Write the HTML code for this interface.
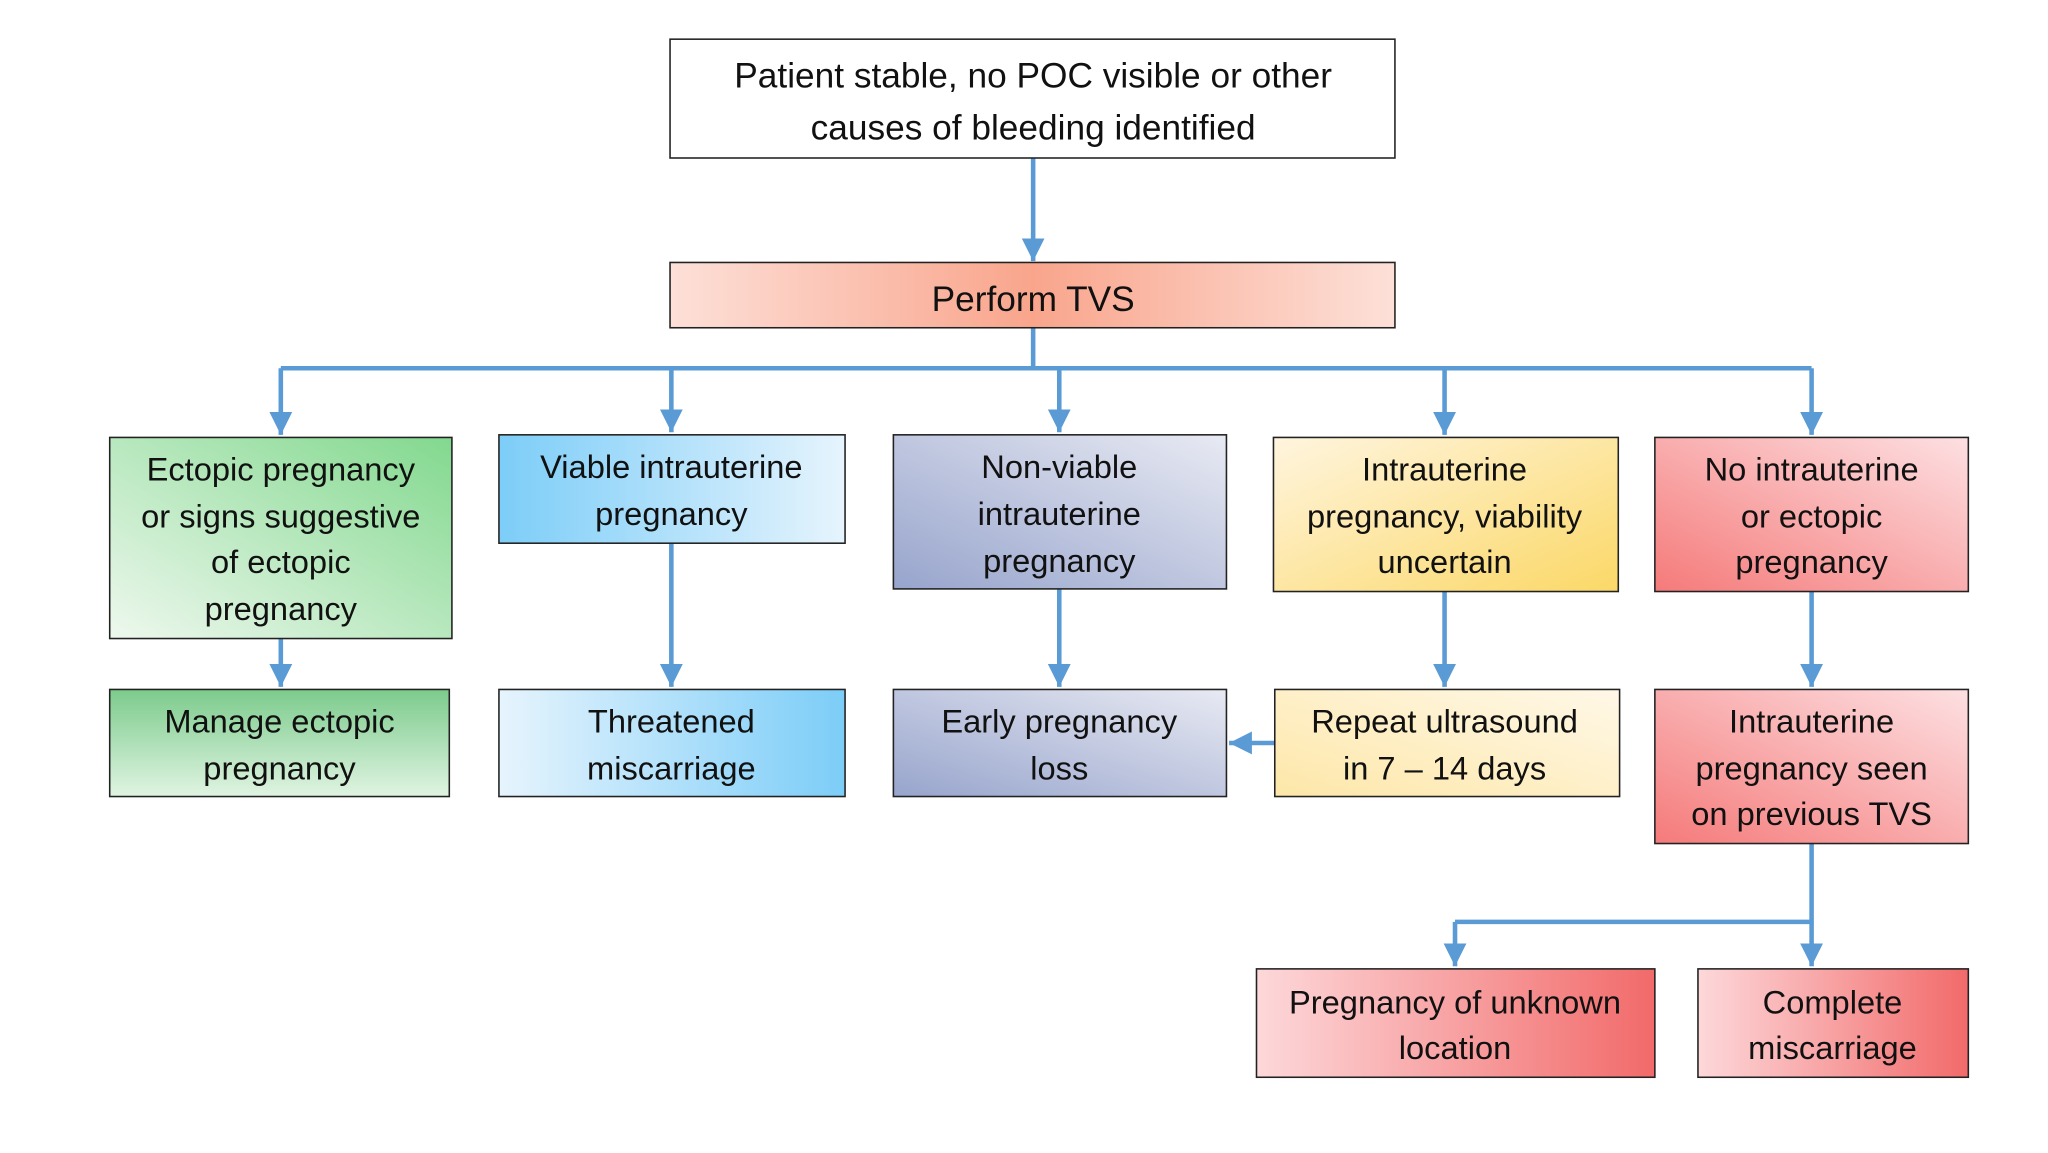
<!DOCTYPE html>
<html><head><meta charset="utf-8"><style>html,body{margin:0;padding:0;background:#fff}svg{display:block}text{font-family:"Liberation Sans",sans-serif;font-size:25px;fill:#111;text-anchor:middle}</style></head><body>
<svg width="2048" height="1153" viewBox="0 0 1568 883" preserveAspectRatio="none" xmlns="http://www.w3.org/2000/svg">
<defs>
<linearGradient id="tvs" x1="0" x2="1"><stop offset="0" stop-color="#fde0d8"/><stop offset="0.5" stop-color="#f9a58c"/><stop offset="1" stop-color="#fde0d8"/></linearGradient>
<linearGradient id="g1" x1="0" y1="1" x2="1" y2="0"><stop offset="0" stop-color="#eef8ee"/><stop offset="1" stop-color="#82d88e"/></linearGradient>
<linearGradient id="g2" x1="0" y1="0" x2="0" y2="1"><stop offset="0" stop-color="#7ccb8c"/><stop offset="1" stop-color="#e0f4e2"/></linearGradient>
<linearGradient id="b1" x1="0" x2="1"><stop offset="0" stop-color="#7ccdf8"/><stop offset="1" stop-color="#e6f4fd"/></linearGradient>
<linearGradient id="b2" x1="0" x2="1"><stop offset="0" stop-color="#e6f4fd"/><stop offset="1" stop-color="#7ccdf8"/></linearGradient>
<linearGradient id="p1" x1="0" y1="1" x2="1" y2="0"><stop offset="0" stop-color="#97a4cc"/><stop offset="1" stop-color="#e8eaf3"/></linearGradient>
<linearGradient id="y1" x1="0" y1="0" x2="1" y2="1"><stop offset="0" stop-color="#fff5df"/><stop offset="1" stop-color="#fbd867"/></linearGradient>
<linearGradient id="y2" x1="0" y1="1" x2="1" y2="0"><stop offset="0" stop-color="#fde7a8"/><stop offset="1" stop-color="#fff8e8"/></linearGradient>
<linearGradient id="r1" x1="0" y1="1" x2="1" y2="0"><stop offset="0" stop-color="#f57a7a"/><stop offset="1" stop-color="#fde0e2"/></linearGradient>
<linearGradient id="r2" x1="0" x2="1"><stop offset="0" stop-color="#fdd8da"/><stop offset="1" stop-color="#f26a6a"/></linearGradient>
<marker id="ah" viewBox="0 0 10 10" refX="10" refY="5" markerWidth="5" markerHeight="6" orient="auto" markerUnits="strokeWidth"><path d="M0,0 L10,5 L0,10 z" fill="#5b9bd5"/></marker>
</defs>
<g fill="none" stroke="#5b9bd5" stroke-width="3.5">
<line x1="791" y1="121" x2="791" y2="200" marker-end="url(#ah)"/>
<line x1="791" y1="251" x2="791" y2="282"/>
<line x1="215" y1="282" x2="1387" y2="282"/>
<line x1="215" y1="282" x2="215" y2="333" marker-end="url(#ah)"/>
<line x1="514" y1="282" x2="514" y2="331" marker-end="url(#ah)"/>
<line x1="811" y1="282" x2="811" y2="331" marker-end="url(#ah)"/>
<line x1="1106" y1="282" x2="1106" y2="333" marker-end="url(#ah)"/>
<line x1="1387" y1="282" x2="1387" y2="333" marker-end="url(#ah)"/>
<line x1="215" y1="489" x2="215" y2="526" marker-end="url(#ah)"/>
<line x1="514" y1="416" x2="514" y2="526" marker-end="url(#ah)"/>
<line x1="811" y1="451" x2="811" y2="526" marker-end="url(#ah)"/>
<line x1="1106" y1="453" x2="1106" y2="526" marker-end="url(#ah)"/>
<line x1="1387" y1="453" x2="1387" y2="526" marker-end="url(#ah)"/>
<line x1="976" y1="569" x2="941" y2="569" marker-end="url(#ah)"/>
<line x1="1387" y1="646" x2="1387" y2="740" marker-end="url(#ah)"/>
<line x1="1387" y1="706" x2="1114" y2="706"/>
<line x1="1114" y1="706" x2="1114" y2="740" marker-end="url(#ah)"/>
</g>
<g stroke="#222" stroke-width="1.2">
<rect x="513" y="30" width="555" height="91" fill="#fff"/>
<rect x="513" y="201" width="555" height="50" fill="url(#tvs)"/>
<rect x="84" y="335" width="262" height="154" fill="url(#g1)"/>
<rect x="382" y="333" width="265" height="83" fill="url(#b1)"/>
<rect x="684" y="333" width="255" height="118" fill="url(#p1)"/>
<rect x="975" y="335" width="264" height="118" fill="url(#y1)"/>
<rect x="1267" y="335" width="240" height="118" fill="url(#r1)"/>
<rect x="84" y="528" width="260" height="82" fill="url(#g2)"/>
<rect x="382" y="528" width="265" height="82" fill="url(#b2)"/>
<rect x="684" y="528" width="255" height="82" fill="url(#p1)"/>
<rect x="976" y="528" width="264" height="82" fill="url(#y2)"/>
<rect x="1267" y="528" width="240" height="118" fill="url(#r1)"/>
<rect x="962" y="742" width="305" height="83" fill="url(#r2)"/>
<rect x="1300" y="742" width="207" height="83" fill="url(#r2)"/>
</g>
<text x="791" y="67" style="font-size:27px">Patient stable, no POC visible or other</text>
<text x="791" y="107" style="font-size:27px">causes of bleeding identified</text>
<text x="791" y="238" style="font-size:27px">Perform TVS</text>
<g>
<text x="215" y="368">Ectopic pregnancy</text><text x="215" y="404">or signs suggestive</text><text x="215" y="439">of ectopic</text><text x="215" y="475">pregnancy</text>
<text x="514" y="366">Viable intrauterine</text><text x="514" y="402">pregnancy</text>
<text x="811" y="366">Non-viable</text><text x="811" y="402">intrauterine</text><text x="811" y="438">pregnancy</text>
<text x="1106" y="368">Intrauterine</text><text x="1106" y="404">pregnancy, viability</text><text x="1106" y="439">uncertain</text>
<text x="1387" y="368">No intrauterine</text><text x="1387" y="404">or ectopic</text><text x="1387" y="439">pregnancy</text>
<text x="214" y="561">Manage ectopic</text><text x="214" y="597">pregnancy</text>
<text x="514" y="561">Threatened</text><text x="514" y="597">miscarriage</text>
<text x="811" y="561">Early pregnancy</text><text x="811" y="597">loss</text>
<text x="1106" y="561">Repeat ultrasound</text><text x="1106" y="597">in 7 – 14 days</text>
<text x="1387" y="561">Intrauterine</text><text x="1387" y="597">pregnancy seen</text><text x="1387" y="632">on previous TVS</text>
<text x="1114" y="776">Pregnancy of unknown</text><text x="1114" y="811">location</text>
<text x="1403" y="776">Complete</text><text x="1403" y="811">miscarriage</text>
</g>
</svg>
</body></html>
